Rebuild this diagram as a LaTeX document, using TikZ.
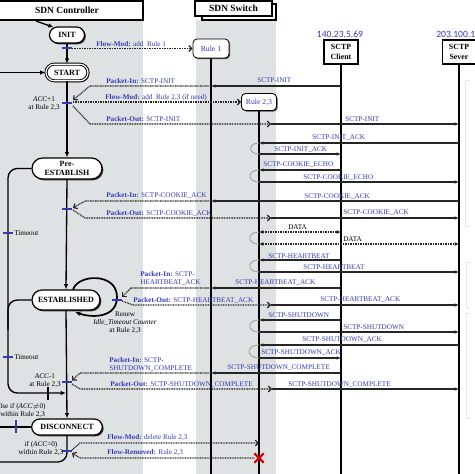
\documentclass[tikz,border=0pt]{standalone}
\usepackage{fontspec}
\setmainfont{Liberation Serif}
\newfontfamily\ipfont{Carlito}
\usetikzlibrary{arrows.meta,shapes.misc,shadows}
\definecolor{bgray}{RGB}{223,226,226}
\definecolor{lblue}{RGB}{52,60,180}
\definecolor{lgray}{RGB}{165,165,165}
\begin{document}
\begin{tikzpicture}[x=0.75pt,y=-0.75pt,
  lbl/.style={font=\fontsize{5.4}{6}\selectfont, text=lblue, inner sep=0pt, anchor=west},
  blk/.style={font=\fontsize{5.4}{6}\selectfont, text=black, inner sep=0pt, align=center},
  stt/.style={rounded rectangle, draw, line width=0.9pt, fill=white, font=\fontsize{6}{6.5}\selectfont\bfseries, inner sep=0pt, align=center, drop shadow={shadow xshift=1pt, shadow yshift=-1pt, fill=black!80, opacity=1}},
  hdr/.style={draw, line width=1pt, fill=white, inner sep=0pt, font=\fontsize{7.1}{8}\selectfont\bfseries},
  rulebox/.style={draw, line width=0.6pt, fill=white, rounded corners=3pt, inner sep=0pt, text=lblue, font=\fontsize{5.8}{6}\selectfont, drop shadow={shadow xshift=0.8pt, shadow yshift=-0.8pt, fill=black!70, opacity=1}},
  ent/.style={draw, line width=1.2pt, fill=white, inner sep=0pt, align=center, font=\fontsize{5.9}{7}\selectfont\bfseries},
  msg/.style={draw=black!85, line width=0.8pt, -{Latex[length=3.2pt,width=2.6pt]}},
  dmsg/.style={draw=black!85, line width=0.9pt, dash pattern=on 0.7pt off 0.55pt, -{Straight Barb[length=2.2pt,width=4.4pt,line width=0.9pt]}},
  ddat/.style={draw=black!85, line width=0.9pt, dash pattern=on 0.7pt off 0.55pt, {Latex[length=3.2pt,width=2.8pt]}-{Latex[length=3.2pt,width=2.8pt]}},
  flow/.style={draw=black, line width=1pt},
  flowa/.style={draw=black, line width=1pt, -{Latex[length=4pt,width=3.4pt]}},
  life/.style={draw=black, line width=0.8pt},
  lifeb/.style={draw=black, line width=1.1pt},
  tickb/.style={draw=lblue, line width=1pt},
  loopg/.style={draw=lgray, line width=0.7pt},
]
\useasboundingbox (0,0) rectangle (474,474);
\fill[white] (0,0) rectangle (474,474);
% backgrounds
\fill[bgray] (0,20) rectangle (143,474);
\fill[bgray] (196,20) rectangle (276,474);
% faint brackets at right edge
\draw[gray!18, line width=0.6pt] (470,80) -- (465,80) -- (465,226) -- (470,226);
\draw[gray!18, line width=0.6pt] (470,262) -- (466,262) -- (466,308) -- (470,308);
\draw[gray!18, line width=0.6pt] (470,313) -- (466,313) -- (466,418) -- (470,418);

% headers
\node[hdr, minimum width=114pt, minimum height=14.25pt] (ctrl) at (67,10.5) {SDN Controller};
\node[draw, line width=0.9pt, fill=white, minimum width=55.5pt, minimum height=12pt] (swb) at (239,12) {};
\node[hdr, minimum width=57.75pt, minimum height=11.25pt] (sw) at (233.5,8.5) {SDN Switch};

% switch rule boxes
\node[rulebox, minimum width=27pt, minimum height=14.25pt] (R1) at (211,48.5) {Rule 1};
\node[rulebox, minimum width=26.25pt, minimum height=12.75pt] (R23) at (259,102) {Rule 2,3};

% endpoints
\node[ent, minimum width=25.5pt, minimum height=18pt] (CL) at (341,52) {SCTP\\Client};
\node[ent, minimum width=24.75pt, minimum height=18pt] (SV) at (459,52) {SCTP\\Sever};
\node[font=\ipfont\fontsize{7.2}{8}\selectfont, text=lblue, inner sep=0pt] (ipc) at (340,34) {140.23.5.69};
\node[font=\ipfont\fontsize{7.2}{8}\selectfont, text=lblue, inner sep=0pt, anchor=west] (ips) at (436,34) {203.100.1};

% lifelines
\draw[life] (R1.south) -- (R1.south |- 0,474);
\draw[life] (R23.south) -- (R23.south |- 0,474);
\draw[lifeb] (CL.south) -- (CL.south |- 0,474);
\draw[lifeb] (SV.south) -- (SV.south |- 0,474);

% controller states
\node[stt, minimum width=26.25pt, minimum height=12pt] (INIT) at (67,35) {INIT};
\node[stt, minimum width=31.5pt, minimum height=12.5pt, double=white, double distance=0.9pt, line width=0.7pt] (START) at (67,72.5) {START};
\node[stt, minimum width=52.5pt, minimum height=15.75pt] (PRE) at (67,168.5) {Pre-\\ESTABLISH};
\node[stt, minimum width=51pt, minimum height=15pt] (EST) at (66,300) {ESTABLISHED};
\node[stt, minimum width=53pt, minimum height=12pt] (DISC) at (67,427) {DISCONNECT};

% controller transitions
\coordinate (inS) at (36,21);
\coordinate (stL) at (0,72.5);
\draw[flowa] (inS) -- (INIT.150);
\draw[flowa] (stL) -- (START.west);
\draw[flowa] (INIT.south) -- (START.north);
\draw[flowa] (START.south) -- (PRE.north);
\draw[flowa] (PRE.south) -- (EST.north);
\draw[flowa] (EST.south) -- (DISC.north);
\draw[flow, rounded corners=7pt] (PRE.west) -| (8,330);
\draw[flowa, rounded corners=7pt] (EST.west) -| (8,393) -- (EST.south |- 0,393);
\draw[flow, line width=1.3pt, -{Latex[length=4pt,width=3.6pt]}] (73,290) .. controls (77,274) and (117,272) .. (117,297) .. controls (117,318) and (92,318) .. (75,312);
\draw[flow] (DISC.west) -- (DISC.west -| 0,0);
\draw[flow, rounded corners=7pt] (DISC.south) |- (0,462);

% ticks on controller
\draw[tickb] (3,233) -- (13,233);
\node[blk, anchor=west] (to1) at (14,233) {Timeout};
\draw[tickb] (3,357) -- (13,357);
\node[blk, anchor=west] (to2) at (14,357) {Timeout};
\draw[flow, line width=0.9pt] (48,387) -- (48,400);
\draw[tickb] (16,420) -- (16,433);
\draw[tickb] (62,48) -- (72,48);
\draw[tickb] (62,103) -- (72,103);
\draw[tickb] (62,209) -- (72,209);
\draw[tickb] (112,300) -- (122,300);
\draw[tickb] (62,382) -- (72,382);
\draw[tickb] (62,451) -- (72,451);

% controller notes
\node[blk] (n1) at (44,103.5) {\textit{ACC}+1\\at Rule 2,3};
\node[blk] (n2) at (125,323) {Renew\\\textit{Idle\_Timeout Counter}\\at Rule 2,3};
\node[blk] (n3) at (45,380.5) {\textit{ACC}-1\\at Rule 2,3};
\node[blk, align=left, anchor=west] (n4) at (0,410.5) {lse if (\textit{ACC}$\neq$0)\\within Rule 2,3};
\node[blk] (n5) at (41,449) {if (\textit{ACC}=0)\\within Rule 2,3};

% ---- messages ----
% Flow-Mod add Rule 1
\draw[dmsg] (72,48.5) -- (R1.west);
\node[lbl] (a1) at (96,44) {\textbf{Flow-Mod:} add~ Rule 1};
% SCTP-INIT
\draw[msg] (CL.south |- 0,86) -- (R1.south |- 0,86);
\node[lbl] (a2) at (257,80) {SCTP-INIT};
\draw[dmsg] (R1.south |- 0,86) -- (90,86) -- (73,100);
\node[lbl] (a3) at (106,81) {\textbf{Packet-In:} SCTP-INIT};
\draw[dmsg] (73,102) -- (R23.west);
\node[lbl] (a4) at (105,97.5) {\textbf{Flow-Mod:} add~ Rule 2,3 (if need)};
\draw[dmsg] (73,106) -- (90,124) -- (271,124);
\node[lbl] (a5) at (106,119) {\textbf{Packet-Out:} SCTP-INIT};
\draw[msg] (271,124) -- (SV.south |- 0,124);
\node[lbl] (a6) at (345,119) {SCTP-INIT};
% INIT_ACK
\draw[msg] (SV.south |- 0,143) -- (R23.south |- 0,143);
\node[lbl] (b1) at (312,138) {SCTP-INIT\_ACK};
\draw[loopg] (R23.south |- 0,143) to[out=180,in=180,looseness=2.6] (R23.south |- 0,154);
\draw[msg] (R23.south |- 0,154) -- (CL.south |- 0,154);
\node[lbl] (b2) at (274,150) {SCTP-INIT\_ACK};
% COOKIE_ECHO
\draw[msg] (CL.south |- 0,170) -- (R23.south |- 0,170);
\node[lbl] (c1) at (263,164.5) {SCTP-COOKIE\_ECHO};
\draw[loopg] (R23.south |- 0,170) to[out=180,in=180,looseness=2.6] (R23.south |- 0,182);
\draw[msg] (R23.south |- 0,182) -- (SV.south |- 0,182);
\node[lbl] (c2) at (303,177.5) {SCTP-COOKIE\_ECHO};
% COOKIE_ACK
\draw[msg] (SV.south |- 0,201) -- (R1.south |- 0,201);
\node[lbl] (d1) at (304,196.5) {SCTP-COOKIE\_ACK};
\draw[dmsg] (R1.south |- 0,201) -- (85,201) -- (73,208);
\node[lbl] (d2) at (106,195) {\textbf{Packet-In:} SCTP-COOKIE\_ACK};
\draw[dmsg] (73,210) -- (85,218) -- (271,218);
\node[lbl] (d3) at (106,213) {\textbf{Packet-Out:} SCTP-COOKIE\_ACK};
\draw[msg] (271,218) -- (SV.south |- 0,218);
\node[lbl] (d4) at (343,213) {SCTP-COOKIE\_ACK};
% DATA
\draw[ddat] (R23.south |- 0,232) -- (CL.south |- 0,232);
\node[lbl, text=black] (e1) at (288,227) {DATA};
\draw[loopg] (R23.south |- 0,232) to[out=180,in=180,looseness=2.6] (R23.south |- 0,244);
\draw[ddat] (R23.south |- 0,244) -- (SV.south |- 0,244);
\node[lbl, text=black] (e2) at (343,239) {DATA};
% HEARTBEAT
\draw[msg] (CL.south |- 0,260) -- (R23.south |- 0,260);
\node[lbl] (f1) at (268,256) {SCTP-HEARTBEAT};
\draw[loopg] (R23.south |- 0,260) to[out=180,in=180,looseness=2.6] (R23.south |- 0,272);
\draw[msg] (R23.south |- 0,272) -- (SV.south |- 0,272);
\node[lbl] (f2) at (303,267.5) {SCTP-HEARTBEAT};
% HEARTBEAT_ACK
\draw[msg] (CL.south |- 0,288) -- (R1.south |- 0,288);
\node[lbl] (g1) at (235,283) {SCTP-HEARTBEAT\_ACK};
\draw[dmsg] (R1.south |- 0,288) -- (131,288) -- (122,297);
\node[lbl, align=left] (g2) at (140,278) {\textbf{Packet-In:} SCTP-\\HEARTBEAT\_ACK};
\draw[dmsg] (122,301) -- (133,305) -- (271,305);
\node[lbl] (g3) at (133,300) {\textbf{Packet-Out:} SCTP-HEARTBEAT\_ACK};
\draw[msg] (271,305) -- (SV.south |- 0,305);
\node[lbl] (g4) at (320,300) {SCTP-HEARTBEAT\_ACK};
% SHUTDOWN
\draw[msg] (CL.south |- 0,320) -- (R23.south |- 0,320);
\node[lbl] (h1) at (268,315) {SCTP-SHUTDOWN};
\draw[loopg] (R23.south |- 0,320) to[out=180,in=180,looseness=2.6] (R23.south |- 0,332);
\draw[msg] (R23.south |- 0,332) -- (SV.south |- 0,332);
\node[lbl] (h2) at (343,327) {SCTP-SHUTDOWN};
% SHUTDOWN_ACK
\draw[msg] (SV.south |- 0,345) -- (R23.south |- 0,345);
\node[lbl] (i1) at (302,340) {SCTP-SHUTDOWN\_ACK};
\draw[loopg] (R23.south |- 0,345) to[out=180,in=180,looseness=2.6] (R23.south |- 0,358);
\draw[msg] (R23.south |- 0,358) -- (CL.south |- 0,358);
\node[lbl] (i2) at (261,353) {SCTP-SHUTDOWN\_ACK};
% SHUTDOWN_COMPLETE
\draw[msg] (CL.south |- 0,373) -- (R1.south |- 0,373);
\node[lbl] (j1) at (227,368) {SCTP-SHUTDOWN\_COMPLETE};
\draw[dmsg] (R1.south |- 0,373) -- (80,373) -- (72,380.5);
\node[lbl, align=left] (j2) at (109,364) {\textbf{Packet-In:} SCTP-\\SHUTDOWN\_COMPLETE};
\draw[dmsg] (72,384) -- (80,389) -- (272,389);
\node[lbl] (j3) at (110,384.5) {\textbf{Packet-Out:} SCTP-SHUTDOWN\_COMPLETE};
\draw[msg] (272,389) -- (SV.south |- 0,389);
\node[lbl] (j4) at (288,384.5) {SCTP-SHUTDOWN\_COMPLETE};
% Flow-Mod delete / Flow-Removed
\node[cross out, draw=red!85!black, line width=1.6pt, minimum size=5.5pt, inner sep=0pt] (X) at (259,458) {};
\draw[dmsg] (72,450) -- (80,443) -- (R23.south |- 0,443);
\node[lbl] (k1) at (107,438) {\textbf{Flow-Mod:} delete Rule 2,3};
\draw[dmsg] (X) -- (80,458) -- (72,453);
\node[lbl] (k2) at (107,453) {\textbf{Flow-Removed:} Rule 2,3};
\end{tikzpicture}
\end{document}
